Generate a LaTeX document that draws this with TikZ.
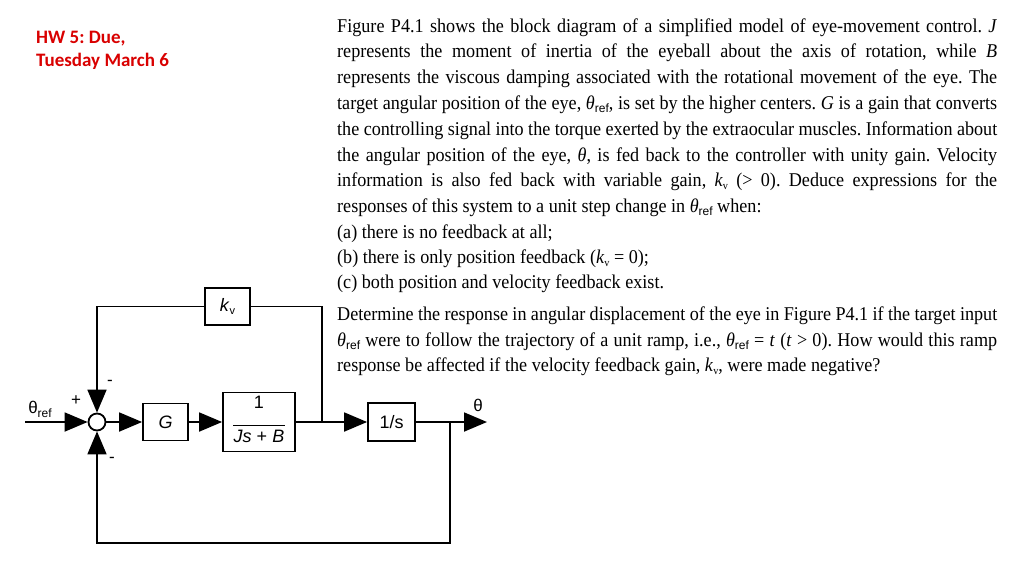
\documentclass[tikz,border=0pt]{standalone}
\usepackage{fontspec}
\setmainfont{Liberation Serif}[FakeStretch=0.93]
\setsansfont{Liberation Sans}
\newfontfamily\hdfont{Carlito}
\usetikzlibrary{arrows.meta}
\frenchspacing
\newcommand{\thr}{\textit{θ}\raisebox{-3pt}{\fontsize{12}{12}\selectfont\sffamily ref}}
\newcommand{\kv}{\textit{k}\raisebox{-3pt}{\fontsize{11}{11}\selectfont v}}
\newcommand{\J}[1]{\makebox[660pt][s]{#1}}
\begin{document}
\begin{tikzpicture}[x=1pt,y=-1pt,
  txt/.style={anchor=base west,inner sep=0pt,font=\fontsize{19.5}{21}\selectfont},
  blk/.style={draw,line width=1.8pt,inner sep=0pt,font=\sffamily\fontsize{18}{19}\selectfont},
  ln/.style={line width=1.8pt},
  arr/.style={line width=1.8pt,-{Triangle[length=23pt,width=19pt]}}]
\useasboundingbox (0,0) rectangle (1024,566);
\fill[white] (0,0) rectangle (1024,566);
\node[anchor=base west,text=red!85!black,font=\hdfont\bfseries\fontsize{19}{20}\selectfont,inner sep=0pt] (h1) at (36,43) {HW 5: Due,};
\node[anchor=base west,text=red!85!black,font=\hdfont\bfseries\fontsize{19}{20}\selectfont,inner sep=0pt] (h2) at (36,66) {Tuesday March 6};
\node[txt] (l1) at (337,32) {\J{Figure P4.1 shows the block diagram of a simplified model of eye-movement control. \textit{J}}};
\node[txt] (l2) at (337,57.5) {\J{represents the moment of inertia of the eyeball about the axis of rotation, while \textit{B}}};
\node[txt] (l3) at (337,83) {\J{represents the viscous damping associated with the rotational movement of the eye. The}};
\node[txt] (l4) at (337,109) {\J{target angular position of the eye, \thr, is set by the higher centers. \textit{G} is a gain that converts}};
\node[txt] (l5) at (337,135) {\J{the controlling signal into the torque exerted by the extraocular muscles. Information about}};
\node[txt] (l6) at (337,161) {\J{the angular position of the eye, \textit{θ}, is fed back to the controller with unity gain. Velocity}};
\node[txt] (l7) at (337,186) {\J{information is also fed back with variable gain, \kv{} (> 0). Deduce expressions for the}};
\node[txt] (l8) at (337,212) {responses of this system to a unit step change in \thr{} when:};
\node[txt] (l9) at (337,238) {(a) there is no feedback at all;};
\node[txt] (l10) at (337,263) {(b) there is only position feedback (\kv{} = 0);};
\node[txt] (l11) at (337,288) {(c) both position and velocity feedback exist.};
\node[txt] (l12) at (337,320) {\J{Determine the response in angular displacement of the eye in Figure P4.1 if the target input}};
\node[txt] (l13) at (337,346) {\J{\thr{} were to follow the trajectory of a unit ramp, i.e., \thr{} = \textit{t} (\textit{t} > 0). How would this ramp}};
\node[txt] (l14) at (337,371) {response be affected if the velocity feedback gain, \kv, were made negative?};
% diagram
\node[draw,circle,line width=1.8pt,minimum size=17pt,inner sep=0pt] (sum) at (97,422) {};
\node[blk,minimum width=45pt,minimum height=37pt] (G) at (165.5,422) {\textit{G}};
\node[blk,minimum width=72pt,minimum height=59pt] (P) at (259,422) {\begin{tabular}{@{}c@{}}1\\[-2pt]\rule{52pt}{1pt}\\[-2pt]\textit{Js} + \textit{B}\end{tabular}};
\node[blk,minimum width=47pt,minimum height=38pt] (I) at (391.5,422) {1/s};
\node[blk,minimum width=45pt,minimum height=37pt] (K) at (227.5,306.5) {\textit{k}\raisebox{-3pt}{\fontsize{11}{11}\selectfont\sffamily v}};
\coordinate (in) at (25,422);
\coordinate (br1) at (322,422);
\coordinate (t1) at (322,306.5);
\coordinate (t0) at (97,306.5);
\coordinate (br2) at (450,422);
\coordinate (out) at (487,422);
\coordinate (b1) at (450,543);
\coordinate (b0) at (97,543);
\draw[arr] (in) -- (sum.west);
\draw[arr] (sum.east) -- (G.west);
\draw[arr] (G.east) -- (P.west);
\draw[arr] (P.east) -- (I.west);
\draw[arr] (I.east) -- (out);
\draw[ln] (br1) -- (t1) -- (K.east);
\draw[arr] (K.west) -- (t0) -- (sum.north);
\draw[arr] (br2) -- (b1) -- (b0) -- (sum.south);
\node[font=\sffamily\fontsize{17}{18}\selectfont] (tr) at (40,409) {θ\raisebox{-4pt}{\fontsize{12}{12}\selectfont ref}};
\node[font=\sffamily\fontsize{17}{18}\selectfont] (plus) at (76,401) {+};
\node[font=\sffamily\fontsize{17}{18}\selectfont] (m1) at (110,383) {-};
\node[font=\sffamily\fontsize{17}{18}\selectfont] (m2) at (112,460) {-};
\node[font=\sffamily\fontsize{17}{18}\selectfont] (th) at (478,405) {θ};
\end{tikzpicture}
\end{document}
